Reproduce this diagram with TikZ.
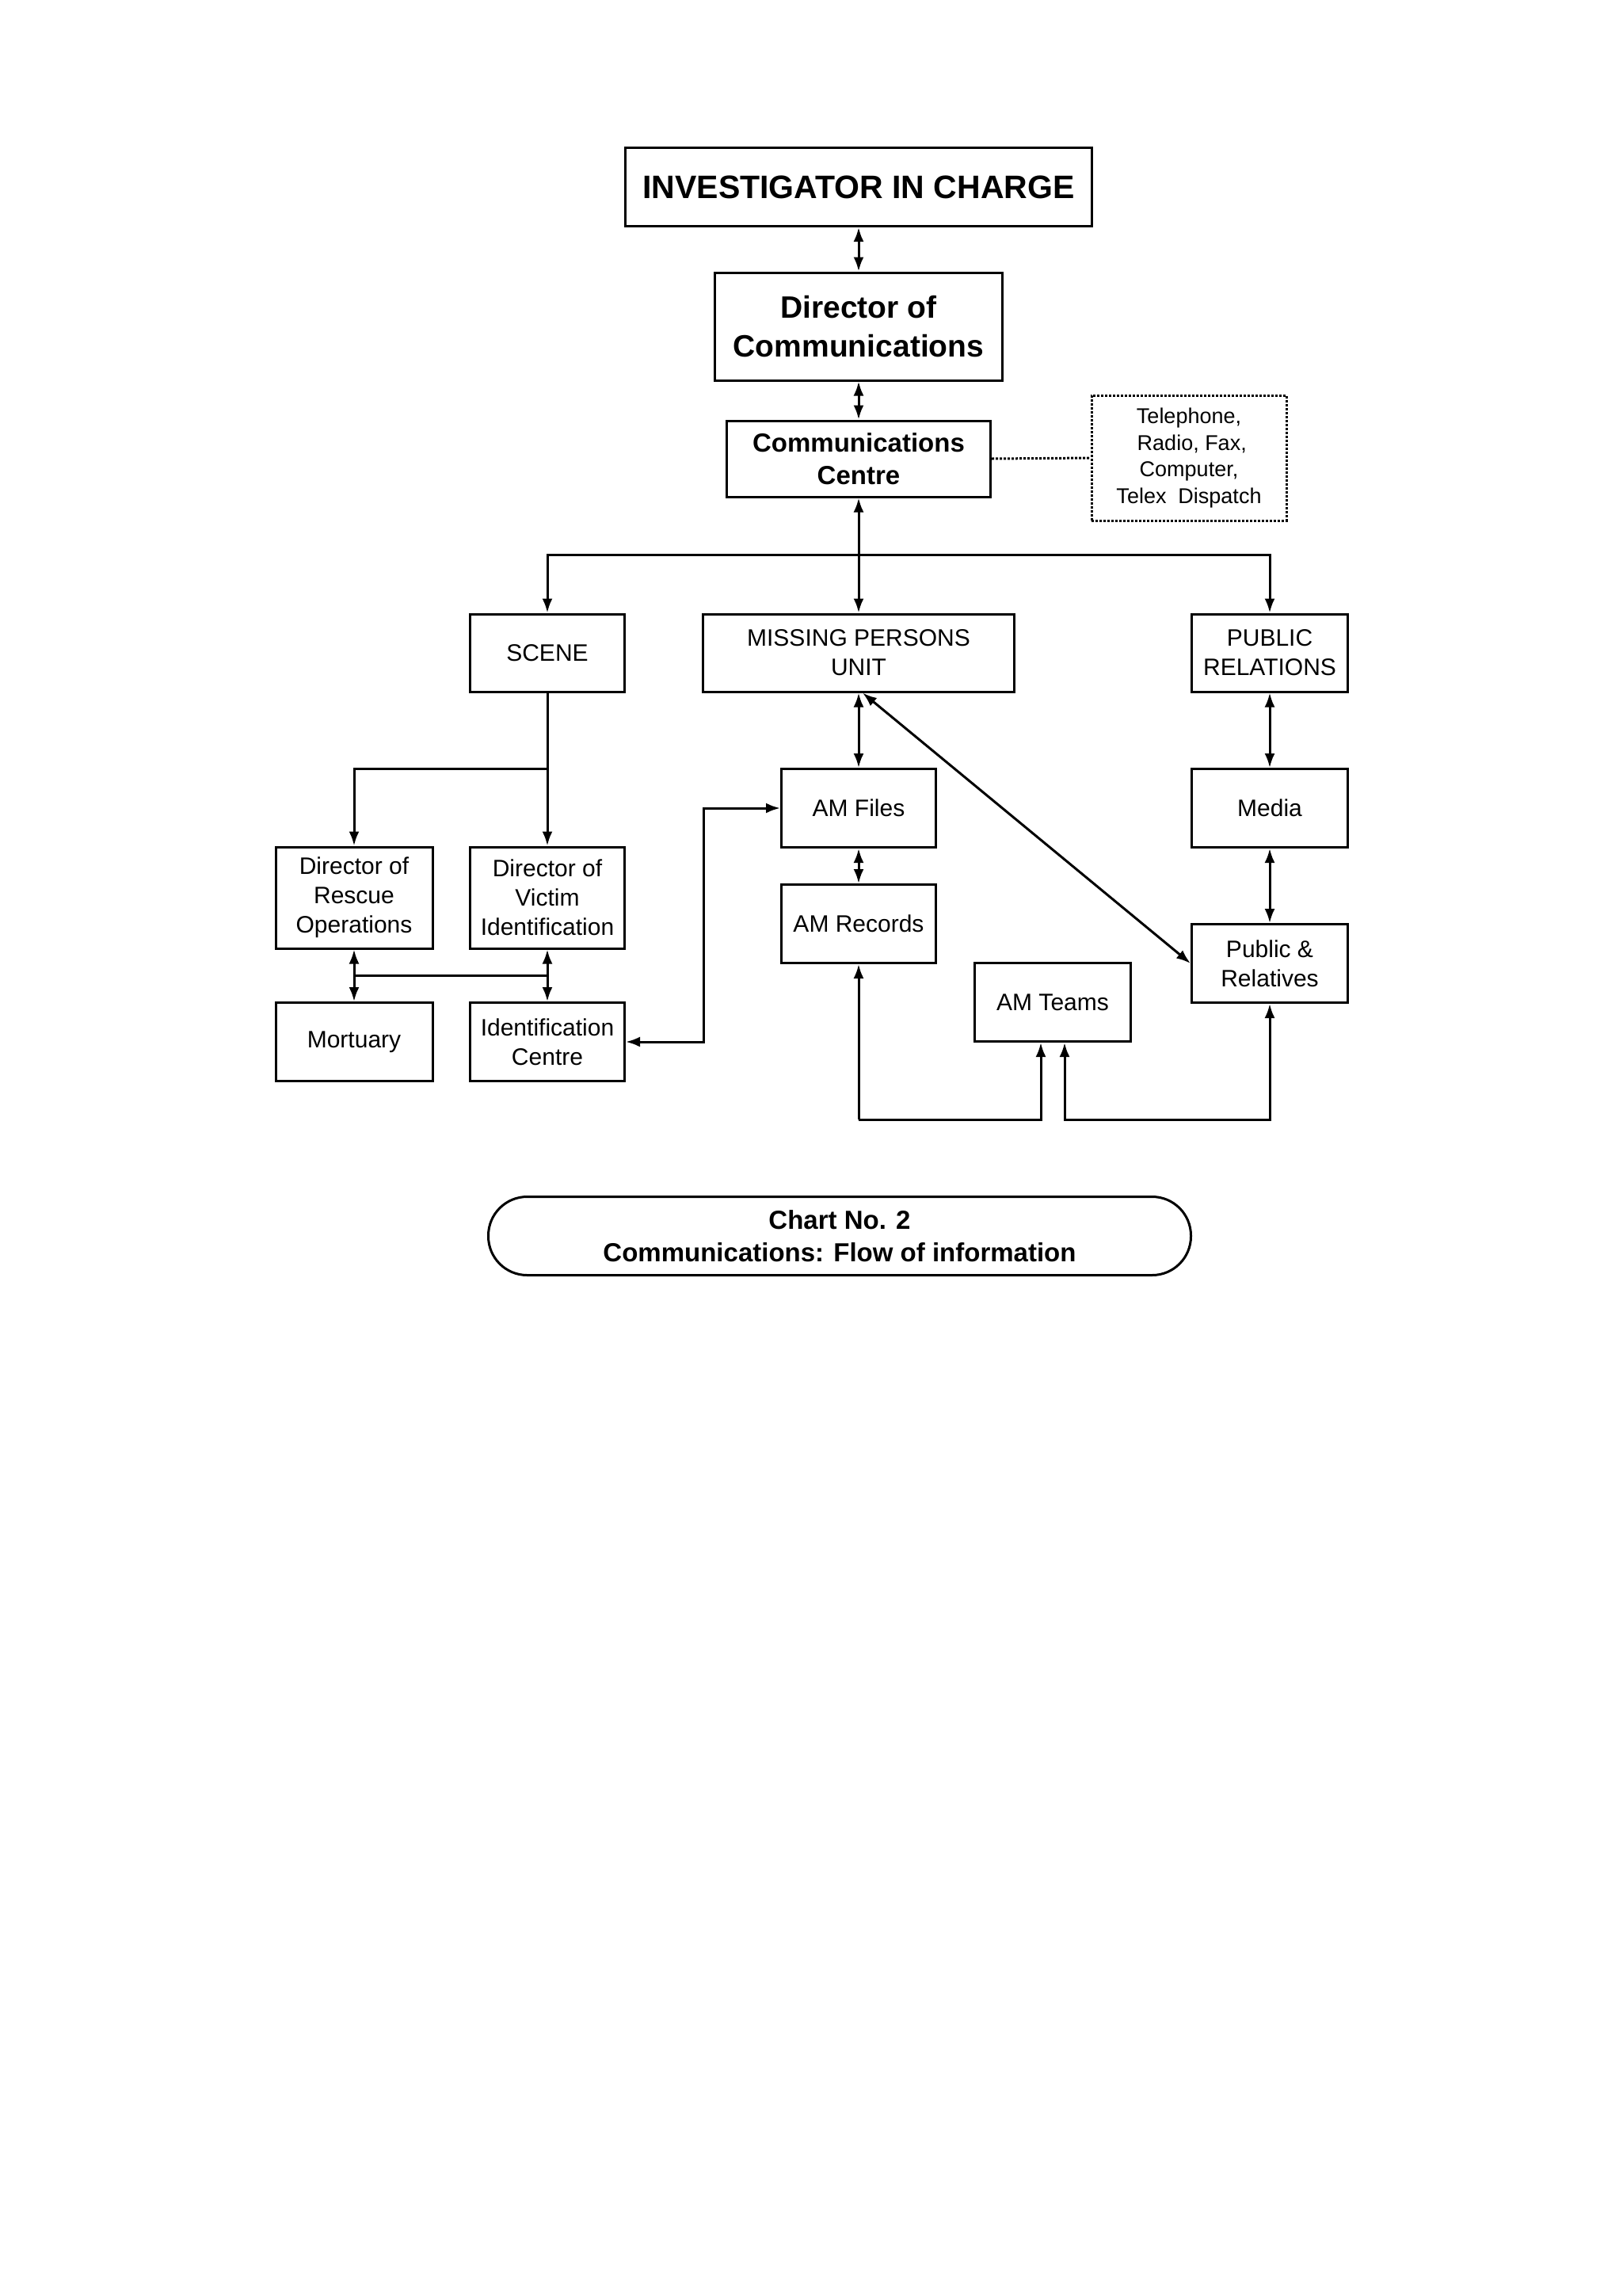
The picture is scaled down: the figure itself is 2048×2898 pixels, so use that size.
\documentclass[tikz,border=0pt]{standalone}
\usepackage{fontspec}
\setmainfont{Liberation Sans}
\usetikzlibrary{arrows.meta}
\begin{document}
\begin{tikzpicture}[x=1pt,y=-1pt,
  bx/.style={draw,line width=3pt,inner sep=0pt,align=center,font=\fontsize{30}{37}\selectfont},
  ln/.style={line width=3pt},
  ar/.style={ln,-{Latex[length=18pt,width=13pt]}},
  dar/.style={ln,{Latex[length=18pt,width=13pt]}-{Latex[length=18pt,width=13pt]}}]
\useasboundingbox (0,0) rectangle (2048,2898);
\fill[white] (0,0) rectangle (2048,2898);
\newcommand{\bxat}[6]{\node[bx,minimum width=#3-#1,minimum height=#4-#2,#6] (#5) at ({(#1+#3)/2},{(#2+#4)/2}) {};}
% boxes (geometry) then texts
\node[bx,minimum width=589,minimum height=99,font=\fontsize{41}{49}\bfseries\selectfont] (iic) at (1084,236) {INVESTIGATOR IN CHARGE};
\node[bx,minimum width=363,minimum height=136,font=\fontsize{39}{49}\bfseries\selectfont] (doc) at (1084,412) {Director of\\Communications};
\node[bx,minimum width=333,minimum height=96,font=\fontsize{33}{41}\bfseries\selectfont] (cc) at (1084,579) {Communications\\Centre};
\node[bx,dotted,minimum width=246,minimum height=158,font=\fontsize{27}{33.5}\selectfont] (tel) at (1501,578) {Telephone,\\ \ Radio, Fax,\\Computer,\\Telex\ \ Dispatch};
\node[bx,minimum width=195,minimum height=98] (scene) at (691,824) {SCENE};
\node[bx,minimum width=393,minimum height=98] (mpu) at (1084,824) {MISSING PERSONS\\UNIT};
\node[bx,minimum width=197,minimum height=98] (pr) at (1603,824) {PUBLIC\\RELATIONS};
\node[bx,minimum width=198,minimum height=128] (dro) at (447,1133) {Director of\\Rescue\\Operations};
\node[bx,minimum width=195,minimum height=128] (dvi) at (691,1133) {Director of\\Victim\\Identification};
\node[bx,minimum width=198,minimum height=99] (mort) at (447,1315) {Mortuary};
\node[bx,minimum width=195,minimum height=99] (idc) at (691,1315) {Identification\\Centre};
\node[bx,minimum width=195,minimum height=99] (amf) at (1084,1020) {AM Files};
\node[bx,minimum width=195,minimum height=99] (amr) at (1084,1166) {AM Records};
\node[bx,minimum width=197,minimum height=99] (amt) at (1329,1265) {AM Teams};
\node[bx,minimum width=197,minimum height=99] (med) at (1603,1020) {Media};
\node[bx,minimum width=197,minimum height=99] (pub) at (1603,1216) {Public \&\\Relatives};
\node[draw,line width=3pt,rounded corners=49pt,minimum width=887,minimum height=99,align=center,font=\fontsize{33}{41}\bfseries\selectfont] (chart) at (1060,1560) {Chart No. 2\\Communications: Flow of information};
% connectors
\draw[dar] (iic) -- (doc);
\draw[dar] (doc) -- (cc);
\draw[ln,dotted] (cc.east) -- (tel.west);
\coordinate (hub) at (1084,700);
\draw[dar] (cc) -- (mpu);
\draw[ar] (hub) -| (scene.north);
\draw[ar] (hub) -| (pr.north);
\coordinate (sj) at (691,970);
\draw[ar] (scene) -- (dvi);
\draw[ar] (sj) -| (dro.north);
\coordinate (lj) at (447,1231);
\coordinate (rj) at (691,1231);
\draw[dar] (dro) -- (mort);
\draw[dar] (dvi) -- (idc);
\draw[ln] (lj) -- (rj);
\draw[dar] (idc.east) -| (888,1020) -- (amf.west);
\draw[dar] (mpu) -- (amf);
\draw[dar] (mpu.south) ++(5,0) coordinate (ds) -- (pub.west);
\draw[dar] (amf) -- (amr);
\draw[dar] (pr) -- (med);
\draw[dar] (med) -- (pub);
\draw[ar] (1084,1413) -- (amr.south);
\draw[ar] (1084,1413) -| ([xshift=-15pt]amt.south);
\draw[ar] (1603,1413) -| ([xshift=15pt]amt.south);
\draw[ar] (1359,1413) -| (pub.south);
\end{tikzpicture}
\end{document}
